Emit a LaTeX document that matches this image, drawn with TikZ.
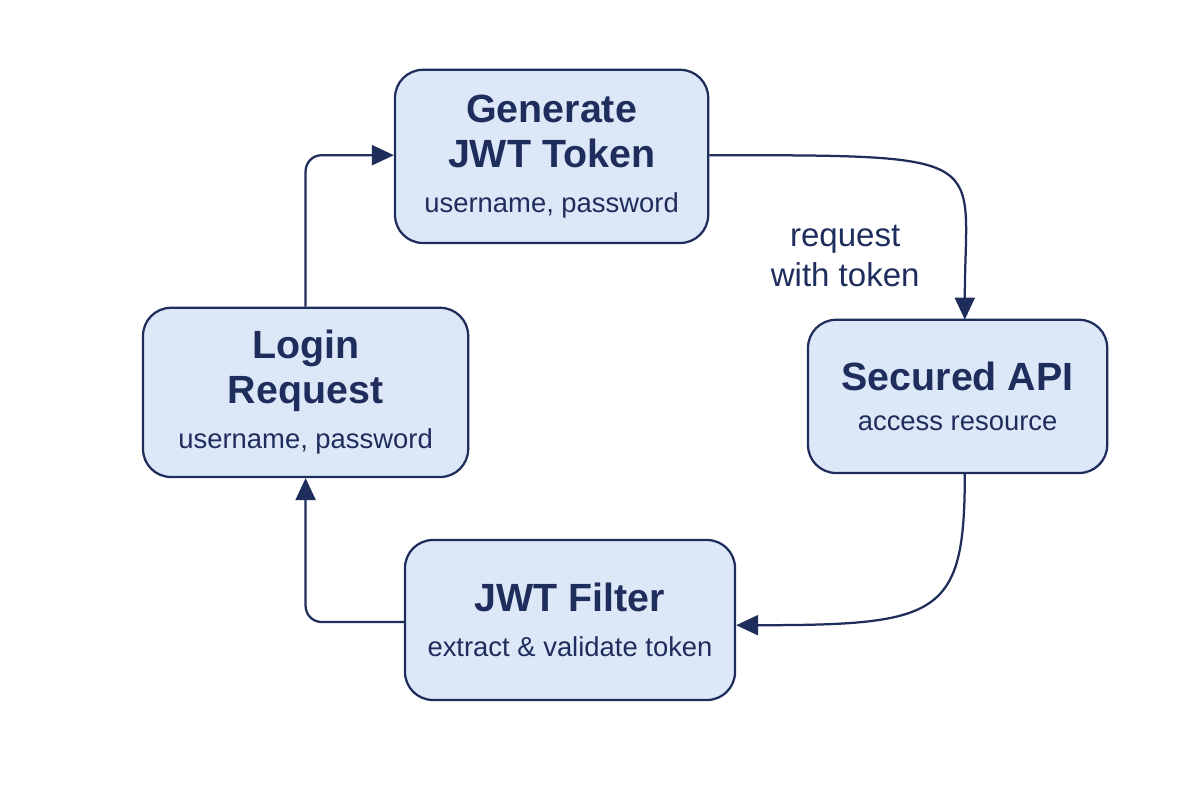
\documentclass[tikz,border=0pt]{standalone}
\usepackage{fontspec}
\setmainfont{Liberation Sans}
\usetikzlibrary{arrows.meta}
\definecolor{navy}{HTML}{1F2D5C}
\definecolor{boxfill}{HTML}{DCE8F8}
\tikzset{
  stage/.style={draw=navy, line width=1.6pt, fill=boxfill, rounded corners=0.7cm,
    align=center, text=navy, inner sep=0pt, font=\fontsize{28}{32}\selectfont},
  flow/.style={draw=navy, line width=1.6pt, -{Triangle[length=0.55cm,width=0.5cm]}},
}
\newcommand{\ttl}[1]{{\bfseries #1}}
\newcommand{\sub}[1]{{\fontsize{19.5}{32}\selectfont #1}}
\begin{document}
\begin{tikzpicture}
\useasboundingbox (0,0) rectangle (30,20);
\node[stage, minimum width=7.83cm, minimum height=4.33cm] (gen) at (13.79,16.09)
  {\ttl{Generate}\\\ttl{JWT Token}\\\sub{username, password}};
\node[stage, minimum width=8.13cm, minimum height=4.23cm] (login) at (7.64,10.19)
  {\ttl{Login}\\\ttl{Request}\\\sub{username, password}};
\node[stage, minimum width=7.48cm, minimum height=3.83cm] (api) at (23.94,10.09)
  {\ttl{Secured API}\\[-4pt]\sub{access resource}};
\node[stage, minimum width=8.25cm, minimum height=4.0cm] (filter) at (14.25,4.5)
  {\ttl{JWT Filter}\\\sub{extract \& validate token}};
% connectors
\draw[flow, rounded corners=0.4cm] (login.north) |- (gen.west |- 0,16.12);
\draw[flow] (gen.east |- 0,16.12) .. controls (25,16.12) and (24.12,16.12) .. (24.12,12.01);
\draw[flow] (api.south -| 24.12,0) .. controls (24.12,4.6) and (23.5,4.37) .. (filter.east |- 0,4.37);
\draw[flow, rounded corners=0.4cm] (filter.west |- 0,4.45) -| (login.south);
\node[text=navy, align=center, font=\fontsize{23.5}{28}\selectfont] (lbl) at (21.13,13.6)
  {request\\with token};
\end{tikzpicture}
\end{document}
